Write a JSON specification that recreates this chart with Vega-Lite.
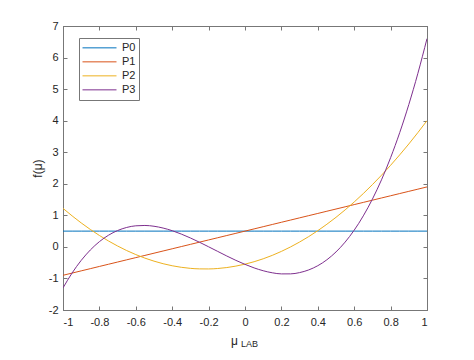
{
  "$schema": "https://vega.github.io/schema/vega-lite/v6.json",
  "width": 364,
  "height": 284,
  "autosize": {"type": "none"},
  "padding": {"left": 63, "top": 26, "right": 47, "bottom": 50},
  "background": "white",
  "config": {
    "view": {"stroke": "#777777", "strokeWidth": 1},
    "font": "Liberation Sans",
    "axis": {
      "grid": false,
      "domainColor": "#777777",
      "tickColor": "#777777",
      "tickSize": -4,
      "labelColor": "#262626",
      "labelFontSize": 11,
      "labelFont": "Liberation Sans",
      "titleFont": "Liberation Sans",
      "titleFontWeight": "normal",
      "titleColor": "#262626",
      "titleFontSize": 12
    },
    "legend": {
      "orient": "none",
      "legendX": 16,
      "legendY": 12,
      "symbolType": "stroke",
      "symbolSize": 1156,
      "symbolStrokeWidth": 1,
      "clipHeight": 13.7,
      "rowPadding": 0,
      "padding": 3,
      "labelFontSize": 11,
      "labelFont": "Liberation Sans",
      "labelColor": "#262626",
      "labelOffset": 5,
      "strokeColor": "#777777",
      "fillColor": "white",
      "symbolOffset": 0
    }
  },
  "data": {
    "values": [
      {"mu": -1, "P0": 0.5, "P1": -0.9, "P2": 1.221, "P3": -1.3},
      {"mu": -0.95, "P0": 0.5, "P1": -0.83, "P2": 0.983, "P3": -0.827},
      {"mu": -0.9, "P0": 0.5, "P1": -0.76, "P2": 0.76, "P3": -0.428},
      {"mu": -0.85, "P0": 0.5, "P1": -0.69, "P2": 0.553, "P3": -0.099},
      {"mu": -0.8, "P0": 0.5, "P1": -0.62, "P2": 0.362, "P3": 0.166},
      {"mu": -0.75, "P0": 0.5, "P1": -0.55, "P2": 0.187, "P3": 0.37},
      {"mu": -0.7, "P0": 0.5, "P1": -0.48, "P2": 0.028, "P3": 0.518},
      {"mu": -0.65, "P0": 0.5, "P1": -0.41, "P2": -0.116, "P3": 0.616},
      {"mu": -0.6, "P0": 0.5, "P1": -0.34, "P2": -0.244, "P3": 0.668},
      {"mu": -0.55, "P0": 0.5, "P1": -0.27, "P2": -0.356, "P3": 0.679},
      {"mu": -0.5, "P0": 0.5, "P1": -0.2, "P2": -0.452, "P3": 0.654},
      {"mu": -0.45, "P0": 0.5, "P1": -0.13, "P2": -0.533, "P3": 0.597},
      {"mu": -0.4, "P0": 0.5, "P1": -0.06, "P2": -0.598, "P3": 0.513},
      {"mu": -0.35, "P0": 0.5, "P1": 0.01, "P2": -0.647, "P3": 0.406},
      {"mu": -0.3, "P0": 0.5, "P1": 0.08, "P2": -0.68, "P3": 0.283},
      {"mu": -0.25, "P0": 0.5, "P1": 0.15, "P2": -0.697, "P3": 0.147},
      {"mu": -0.2, "P0": 0.5, "P1": 0.22, "P2": -0.699, "P3": 0.003},
      {"mu": -0.15, "P0": 0.5, "P1": 0.29, "P2": -0.685, "P3": -0.143},
      {"mu": -0.1, "P0": 0.5, "P1": 0.36, "P2": -0.655, "P3": -0.289},
      {"mu": -0.05, "P0": 0.5, "P1": 0.43, "P2": -0.609, "P3": -0.427},
      {"mu": 0, "P0": 0.5, "P1": 0.5, "P2": -0.547, "P3": -0.554},
      {"mu": 0.05, "P0": 0.5, "P1": 0.57, "P2": -0.47, "P3": -0.666},
      {"mu": 0.1, "P0": 0.5, "P1": 0.64, "P2": -0.377, "P3": -0.756},
      {"mu": 0.15, "P0": 0.5, "P1": 0.71, "P2": -0.268, "P3": -0.821},
      {"mu": 0.2, "P0": 0.5, "P1": 0.78, "P2": -0.143, "P3": -0.856},
      {"mu": 0.25, "P0": 0.5, "P1": 0.85, "P2": -0.002, "P3": -0.855},
      {"mu": 0.3, "P0": 0.5, "P1": 0.92, "P2": 0.154, "P3": -0.815},
      {"mu": 0.35, "P0": 0.5, "P1": 0.99, "P2": 0.326, "P3": -0.73},
      {"mu": 0.4, "P0": 0.5, "P1": 1.06, "P2": 0.514, "P3": -0.596},
      {"mu": 0.45, "P0": 0.5, "P1": 1.13, "P2": 0.718, "P3": -0.408},
      {"mu": 0.5, "P0": 0.5, "P1": 1.2, "P2": 0.937, "P3": -0.16},
      {"mu": 0.55, "P0": 0.5, "P1": 1.27, "P2": 1.172, "P3": 0.151},
      {"mu": 0.6, "P0": 0.5, "P1": 1.34, "P2": 1.423, "P3": 0.53},
      {"mu": 0.65, "P0": 0.5, "P1": 1.41, "P2": 1.69, "P3": 0.983},
      {"mu": 0.7, "P0": 0.5, "P1": 1.48, "P2": 1.973, "P3": 1.513},
      {"mu": 0.75, "P0": 0.5, "P1": 1.55, "P2": 2.271, "P3": 2.126},
      {"mu": 0.8, "P0": 0.5, "P1": 1.62, "P2": 2.586, "P3": 2.827},
      {"mu": 0.85, "P0": 0.5, "P1": 1.69, "P2": 2.916, "P3": 3.62},
      {"mu": 0.9, "P0": 0.5, "P1": 1.76, "P2": 3.261, "P3": 4.51},
      {"mu": 0.95, "P0": 0.5, "P1": 1.83, "P2": 3.623, "P3": 5.502},
      {"mu": 1, "P0": 0.5, "P1": 1.9, "P2": 4.0, "P3": 6.6}
    ]
  },
  "layer": [
    {
      "transform": [{"fold": ["P0", "P1", "P2", "P3"], "as": ["series", "f"]}],
      "mark": {"type": "line", "strokeWidth": 1, "interpolate": "monotone", "clip": true},
      "encoding": {
        "x": {
          "field": "mu",
          "type": "quantitative",
          "scale": {"domain": [-1, 1], "nice": false, "zero": false},
          "axis": {
            "orient": "bottom",
            "values": [-1, -0.8, -0.6, -0.4, -0.2, 0, 0.2, 0.4, 0.6, 0.8, 1],
            "labelExpr": "'' + datum.value",
            "labelPadding": 10,
            "title": "μ",
            "titleX": 171,
            "titleY": 34,
            "titleBaseline": "alphabetic"
          }
        },
        "y": {
          "field": "f",
          "type": "quantitative",
          "scale": {"domain": [-2, 7], "nice": false, "zero": false},
          "axis": {
            "orient": "left",
            "values": [-2, -1, 0, 1, 2, 3, 4, 5, 6, 7],
            "labelExpr": "'' + datum.value",
            "labelPadding": 9,
            "title": "f(μ)",
            "titlePadding": 4
          }
        },
        "color": {
          "field": "series",
          "type": "nominal",
          "scale": {"domain": ["P0", "P1", "P2", "P3"], "range": ["#0072BD", "#D95319", "#EDB120", "#7E2F8E"]},
          "legend": {"title": null}
        }
      }
    },
    {
      "transform": [{"fold": ["P0", "P1", "P2", "P3"], "as": ["series", "f"]}],
      "mark": {"type": "line", "opacity": 0},
      "encoding": {
        "x": {
          "field": "mu",
          "type": "quantitative",
          "axis": {"orient": "top", "values": [-1, -0.8, -0.6, -0.4, -0.2, 0, 0.2, 0.4, 0.6, 0.8, 1], "labels": false, "title": null}
        },
        "y": {
          "field": "f",
          "type": "quantitative",
          "axis": {"orient": "right", "values": [-2, -1, 0, 1, 2, 3, 4, 5, 6, 7], "labels": false, "title": null}
        }
      }
    },
    {
      "data": {"values": [{"sub": "LAB"}]},
      "mark": {"type": "text", "align": "left", "baseline": "alphabetic", "dx": -4, "dy": 37, "fontSize": 9, "color": "#262626", "font": "Liberation Sans", "clip": false},
      "encoding": {
        "x": {"datum": 0, "type": "quantitative", "axis": null},
        "y": {"datum": -2, "type": "quantitative", "axis": null},
        "text": {"field": "sub", "type": "nominal"}
      }
    }
  ],
  "resolve": {"axis": {"x": "independent", "y": "independent"}}
}
